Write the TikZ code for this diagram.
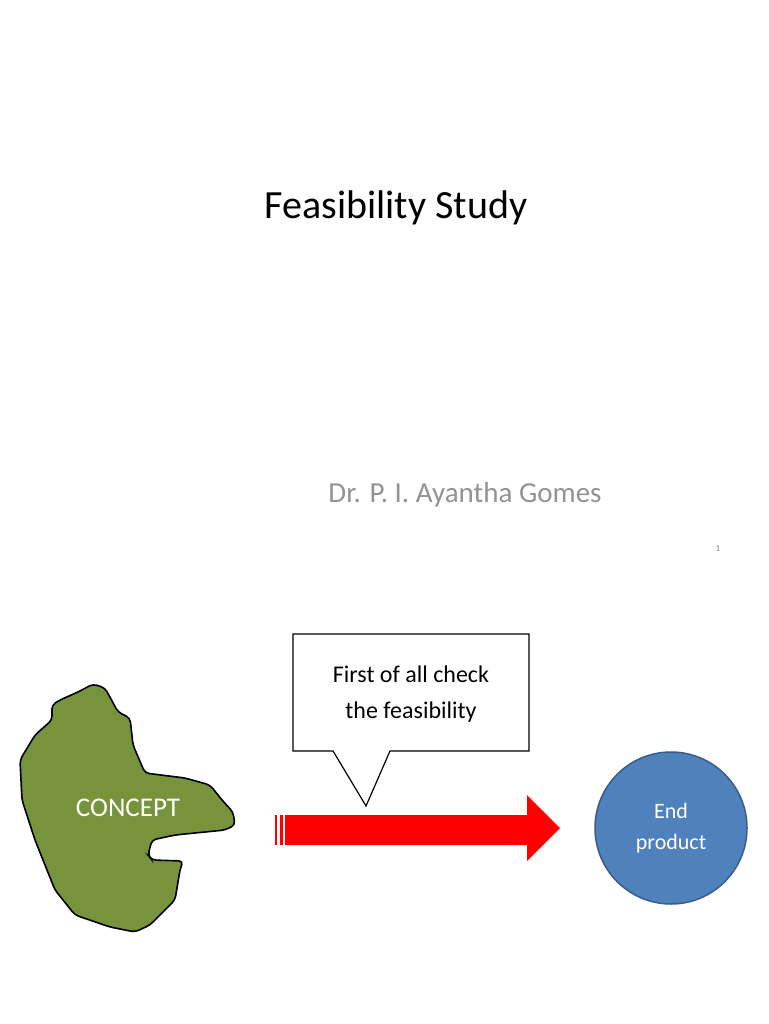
\documentclass[tikz,border=0pt]{standalone}
\usepackage{fontspec}
\setmainfont{Carlito}
\definecolor{blobgreen}{HTML}{77933C}
\definecolor{cblue}{HTML}{4F81BD}
\definecolor{cblueb}{HTML}{385D8A}
\begin{document}
\begin{tikzpicture}[x=1pt,y=-1pt,
  txt/.style={inner sep=0pt,align=center}]
\useasboundingbox (0,0) rectangle (768,1024);
\fill[white] (0,0) rectangle (768,1024);
\node[txt,font=\fontsize{40}{48}\selectfont] (title) at (396,208) {Feasibility Study};
\node[txt,font=\fontsize{29}{34}\selectfont,text=gray!85] (author) at (465,495) {Dr. P. I. Ayantha Gomes};
\node[txt,font=\fontsize{9}{10}\selectfont,text=gray] (pg) at (718,549) {1};
% blob
\draw[fill=blobgreen,line width=1.6pt,rounded corners=4pt]
 (93,684) -- (105,688) -- (118,712) -- (130,718) -- (133,745) -- (145,773) -- (185,778) -- (210,785) -- (222,800) -- (233,812) -- (235,825) -- (225,830) -- (175,835) -- (152,840) -- (148,855) -- (152,860) -- (183,861) -- (180,870) -- (175,900) -- (150,925) -- (135,932) -- (110,927) -- (75,915) -- (55,890) -- (35,840) -- (22,800) -- (20,760) -- (35,735) -- (52,720) -- (52,705) -- (60,700) -- (78,692) -- cycle;
\node[txt,text=white,font=\fontsize{27}{32}\selectfont] (concept) at (128,808) {CONCEPT};
% arrow
\fill[red] (285,815) -- (527,815) -- (527,795) -- (560,828) -- (527,861) -- (527,845) -- (285,845) -- cycle;
\fill[red] (275,815) rectangle (277,845);
\fill[red] (279.5,815) rectangle (282.5,845);
% callout
\draw[fill=white,line width=1.2pt] (293,634) -- (529,634) -- (529,751) -- (390,751) -- (366,806) -- (333,751) -- (293,751) -- cycle;
\node[txt,font=\fontsize{24}{36}\selectfont] (call) at (411,694) {First of all check\\the feasibility};
% circle
\node[circle,fill=cblue,draw=cblueb,line width=1.5pt,minimum size=152pt,inner sep=0pt,text=white,align=center,font=\fontsize{22}{31}\selectfont] (end) at (671,828) {End\\product};
\end{tikzpicture}
\end{document}
